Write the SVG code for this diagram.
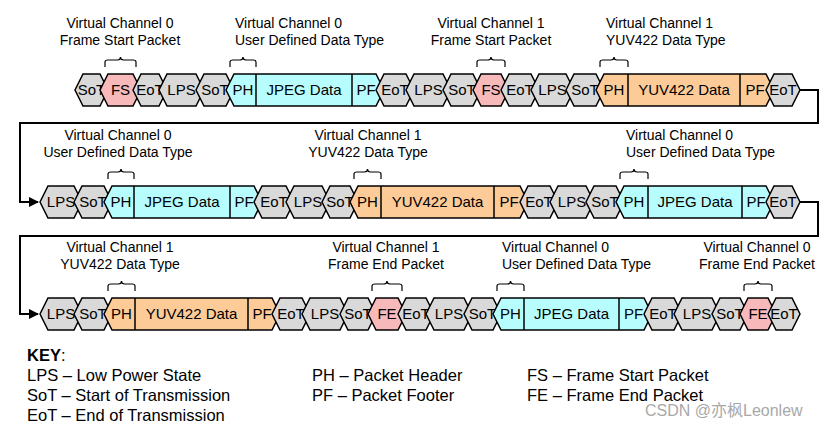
<svg xmlns="http://www.w3.org/2000/svg" width="840" height="428" viewBox="0 0 840 428">
<style>
text{font-family:"Liberation Sans",Arial,sans-serif;fill:#000}
.c{font-size:15px;text-anchor:middle}
.l{font-size:14px}
.m{text-anchor:middle}
.k{font-size:16.5px}
.g{fill:#d9d9d9;stroke:#000;stroke-width:1.5}
.p{fill:#f8b9bb;stroke:#000;stroke-width:1.5}
.b{fill:#b8fdfd;stroke:#000;stroke-width:1.5}
.o{fill:#fccb98;stroke:#000;stroke-width:1.5}
.d{stroke:#000;stroke-width:1.5}
.br{fill:none;stroke:#000;stroke-width:1.2}
.cn{fill:none;stroke:#000;stroke-width:2}
</style>
<defs><marker id="a" markerWidth="10" markerHeight="10" refX="9" refY="5" orient="auto" markerUnits="userSpaceOnUse"><path d="M0,0 L10,5 L0,10 z" fill="#000"/></marker></defs>
<g id="connectors">
<path class="cn" d="M800 90 H818 V123 H20 V202 H38" marker-end="url(#a)"/>
<path class="cn" d="M800 202 H818 V236 H20 V314 H38" marker-end="url(#a)"/>
</g>
<g id="labels">
<text class="l m" x="120" y="28">Virtual Channel 0</text><text class="l m" x="120" y="45">Frame Start Packet</text>
<text class="l" x="235" y="28">Virtual Channel 0</text><text class="l" x="235" y="45">User Defined Data Type</text>
<text class="l m" x="491" y="28">Virtual Channel 1</text><text class="l m" x="491" y="45">Frame Start Packet</text>
<text class="l" x="606" y="28">Virtual Channel 1</text><text class="l" x="606" y="45">YUV422 Data Type</text>
<text class="l m" x="118" y="140">Virtual Channel 0</text><text class="l m" x="118" y="157">User Defined Data Type</text>
<text class="l m" x="368" y="140">Virtual Channel 1</text><text class="l m" x="368" y="157">YUV422 Data Type</text>
<text class="l" x="626" y="140">Virtual Channel 0</text><text class="l" x="626" y="157">User Defined Data Type</text>
<text class="l m" x="120" y="252">Virtual Channel 1</text><text class="l m" x="120" y="269">YUV422 Data Type</text>
<text class="l m" x="386" y="252">Virtual Channel 1</text><text class="l m" x="386" y="269">Frame End Packet</text>
<text class="l" x="502" y="252">Virtual Channel 0</text><text class="l" x="502" y="269">User Defined Data Type</text>
<text class="l m" x="757" y="252">Virtual Channel 0</text><text class="l m" x="757" y="269">Frame End Packet</text>
</g>
<g id="braces">
<path class="br" d="M105 67 V62 Q105 60 108 60 H117.5 Q120.5 60 120.5 57 Q120.5 60 123.5 60 H133 Q136 60 136 62 V67"/>
<path class="br" d="M230 67 V62 Q230 60 233 60 H240 Q243 60 243 57 Q243 60 246 60 H253 Q256 60 256 62 V67"/>
<path class="br" d="M477 67 V62 Q477 60 480 60 H488 Q491 60 491 57 Q491 60 494 60 H502 Q505 60 505 62 V67"/>
<path class="br" d="M600 67 V62 Q600 60 603 60 H611 Q614 60 614 57 Q614 60 617 60 H625 Q628 60 628 62 V67"/>
<path class="br" d="M108 179 V174 Q108 172 111 172 H118 Q121 172 121 169 Q121 172 124 172 H131 Q134 172 134 174 V179"/>
<path class="br" d="M354 179 V174 Q354 172 357 172 H364.5 Q367.5 172 367.5 169 Q367.5 172 370.5 172 H378 Q381 172 381 174 V179"/>
<path class="br" d="M620 179 V174 Q620 172 623 172 H631 Q634 172 634 169 Q634 172 637 172 H645 Q648 172 648 174 V179"/>
<path class="br" d="M108 291 V286 Q108 284 111 284 H118.5 Q121.5 284 121.5 281 Q121.5 284 124.5 284 H132 Q135 284 135 286 V291"/>
<path class="br" d="M372 291 V286 Q372 284 375 284 H384 Q387 284 387 281 Q387 284 390 284 H399 Q402 284 402 286 V291"/>
<path class="br" d="M497 291 V286 Q497 284 500 284 H507.5 Q510.5 284 510.5 281 Q510.5 284 513.5 284 H521 Q524 284 524 286 V291"/>
<path class="br" d="M744 291 V286 Q744 284 747 284 H755 Q758 284 758 281 Q758 284 761 284 H769 Q772 284 772 286 V291"/>
</g>
<g id="row1">
<path class="g" d="M75 90 l8 -16 h17 l8 16 l-8 16 h-17 z"/><text class="c" x="91.5" y="95">SoT</text>
<path class="p" d="M100 90 l8 -16 h25 l8 16 l-8 16 h-25 z"/><text class="c" x="120.5" y="95">FS</text>
<path class="g" d="M133 90 l8 -16 h18 l8 16 l-8 16 h-18 z"/><text class="c" x="150" y="95">EoT</text>
<path class="g" d="M159 90 l8 -16 h29 l8 16 l-8 16 h-29 z"/><text class="c" x="181.5" y="95">LPS</text>
<path class="g" d="M196 90 l8 -16 h22 l8 16 l-8 16 h-22 z"/><text class="c" x="215" y="95">SoT</text>
<path class="b" d="M226 90 l8 -16 h142 l8 16 l-8 16 h-142 z"/><line class="d" x1="256" y1="74" x2="256" y2="106"/><line class="d" x1="352" y1="74" x2="352" y2="106"/>
<text class="c" x="243" y="95">PH</text><text class="c" x="304" y="95">JPEG Data</text><text class="c" x="366" y="95">PF</text>
<path class="g" d="M376 90 l8 -16 h22 l8 16 l-8 16 h-22 z"/><text class="c" x="395" y="95">EoT</text>
<path class="g" d="M406 90 l8 -16 h29 l8 16 l-8 16 h-29 z"/><text class="c" x="428.5" y="95">LPS</text>
<path class="g" d="M443 90 l8 -16 h22 l8 16 l-8 16 h-22 z"/><text class="c" x="462" y="95">SoT</text>
<path class="p" d="M473 90 l8 -16 h20 l8 16 l-8 16 h-20 z"/><text class="c" x="491" y="95">FS</text>
<path class="g" d="M501 90 l8 -16 h22 l8 16 l-8 16 h-22 z"/><text class="c" x="520" y="95">EoT</text>
<path class="g" d="M531 90 l8 -16 h27 l8 16 l-8 16 h-27 z"/><text class="c" x="552.5" y="95">LPS</text>
<path class="g" d="M566 90 l8 -16 h22 l8 16 l-8 16 h-22 z"/><text class="c" x="585" y="95">SoT</text>
<path class="o" d="M596 90 l8 -16 h162 l8 16 l-8 16 h-162 z"/><line class="d" x1="628" y1="74" x2="628" y2="106"/><line class="d" x1="740" y1="74" x2="740" y2="106"/>
<text class="c" x="614" y="95">PH</text><text class="c" x="684" y="95">YUV422 Data</text><text class="c" x="755" y="95">PF</text>
<path class="g" d="M766 90 l8 -16 h18 l8 16 l-8 16 h-18 z"/><text class="c" x="783" y="95">EoT</text>
</g>
<g id="row2">
<path class="g" d="M40 202 l8 -16 h26 l8 16 l-8 16 h-26 z"/><text class="c" x="61" y="207">LPS</text>
<path class="g" d="M74 202 l8 -16 h22 l8 16 l-8 16 h-22 z"/><text class="c" x="93" y="207">SoT</text>
<path class="b" d="M104 202 l8 -16 h142 l8 16 l-8 16 h-142 z"/><line class="d" x1="134" y1="186" x2="134" y2="218"/><line class="d" x1="230" y1="186" x2="230" y2="218"/>
<text class="c" x="121" y="207">PH</text><text class="c" x="182" y="207">JPEG Data</text><text class="c" x="244" y="207">PF</text>
<path class="g" d="M254 202 l8 -16 h24 l8 16 l-8 16 h-24 z"/><text class="c" x="274" y="207">EoT</text>
<path class="g" d="M286 202 l8 -16 h28 l8 16 l-8 16 h-28 z"/><text class="c" x="308" y="207">LPS</text>
<path class="g" d="M322 202 l8 -16 h20 l8 16 l-8 16 h-20 z"/><text class="c" x="340" y="207">SoT</text>
<path class="o" d="M350 202 l8 -16 h162 l8 16 l-8 16 h-162 z"/><line class="d" x1="381" y1="186" x2="381" y2="218"/><line class="d" x1="494" y1="186" x2="494" y2="218"/>
<text class="c" x="367.5" y="207">PH</text><text class="c" x="437.5" y="207">YUV422 Data</text><text class="c" x="509" y="207">PF</text>
<path class="g" d="M520 202 l8 -16 h22 l8 16 l-8 16 h-22 z"/><text class="c" x="539" y="207">EoT</text>
<path class="g" d="M550 202 l8 -16 h28 l8 16 l-8 16 h-28 z"/><text class="c" x="572" y="207">LPS</text>
<path class="g" d="M586 202 l8 -16 h22 l8 16 l-8 16 h-22 z"/><text class="c" x="605" y="207">SoT</text>
<path class="b" d="M616 202 l8 -16 h142 l8 16 l-8 16 h-142 z"/><line class="d" x1="648" y1="186" x2="648" y2="218"/><line class="d" x1="742" y1="186" x2="742" y2="218"/>
<text class="c" x="634" y="207">PH</text><text class="c" x="695" y="207">JPEG Data</text><text class="c" x="756" y="207">PF</text>
<path class="g" d="M766 202 l8 -16 h18 l8 16 l-8 16 h-18 z"/><text class="c" x="783" y="207">EoT</text>
</g>
<g id="row3">
<path class="g" d="M40 314 l8 -16 h26 l8 16 l-8 16 h-26 z"/><text class="c" x="61" y="319">LPS</text>
<path class="g" d="M74 314 l8 -16 h22 l8 16 l-8 16 h-22 z"/><text class="c" x="93" y="319">SoT</text>
<path class="o" d="M104 314 l8 -16 h160 l8 16 l-8 16 h-160 z"/><line class="d" x1="135" y1="298" x2="135" y2="330"/><line class="d" x1="248" y1="298" x2="248" y2="330"/>
<text class="c" x="121.5" y="319">PH</text><text class="c" x="191.5" y="319">YUV422 Data</text><text class="c" x="262" y="319">PF</text>
<path class="g" d="M272 314 l8 -16 h22 l8 16 l-8 16 h-22 z"/><text class="c" x="291" y="319">EoT</text>
<path class="g" d="M302 314 l8 -16 h30 l8 16 l-8 16 h-30 z"/><text class="c" x="325" y="319">LPS</text>
<path class="g" d="M340 314 l8 -16 h20 l8 16 l-8 16 h-20 z"/><text class="c" x="358" y="319">SoT</text>
<path class="p" d="M368 314 l8 -16 h22 l8 16 l-8 16 h-22 z"/><text class="c" x="387" y="319">FE</text>
<path class="g" d="M398 314 l8 -16 h20 l8 16 l-8 16 h-20 z"/><text class="c" x="416" y="319">EoT</text>
<path class="g" d="M426 314 l8 -16 h30 l8 16 l-8 16 h-30 z"/><text class="c" x="449" y="319">LPS</text>
<path class="g" d="M464 314 l8 -16 h21 l8 16 l-8 16 h-21 z"/><text class="c" x="482.5" y="319">SoT</text>
<path class="b" d="M493 314 l8 -16 h143 l8 16 l-8 16 h-143 z"/><line class="d" x1="524" y1="298" x2="524" y2="330"/><line class="d" x1="619" y1="298" x2="619" y2="330"/>
<text class="c" x="510.5" y="319">PH</text><text class="c" x="571.5" y="319">JPEG Data</text><text class="c" x="633.5" y="319">PF</text>
<path class="g" d="M644 314 l8 -16 h22 l8 16 l-8 16 h-22 z"/><text class="c" x="663" y="319">EoT</text>
<path class="g" d="M674 314 l8 -16 h30 l8 16 l-8 16 h-30 z"/><text class="c" x="697" y="319">LPS</text>
<path class="g" d="M712 314 l8 -16 h20 l8 16 l-8 16 h-20 z"/><text class="c" x="730" y="319">SoT</text>
<path class="p" d="M740 314 l8 -16 h20 l8 16 l-8 16 h-20 z"/><text class="c" x="758" y="319">FE</text>
<path class="g" d="M768 314 l8 -16 h16 l8 16 l-8 16 h-16 z"/><text class="c" x="784" y="319">EoT</text>
</g>
<g id="key">
<text class="k" x="27" y="361"><tspan font-weight="bold">KEY</tspan>:</text>
<text class="k" x="27" y="381">LPS – Low Power State</text>
<text class="k" x="27" y="401">SoT – Start of Transmission</text>
<text class="k" x="27" y="421">EoT – End of Transmission</text>
<text class="k" x="312" y="381">PH – Packet Header</text>
<text class="k" x="312" y="401">PF – Packet Footer</text>
<text class="k" x="527" y="381">FS – Frame Start Packet</text>
<text class="k" x="527" y="401">FE – Frame End Packet</text>
<text x="645" y="416" style="font-size:16px;fill:#a8a8a8;font-family:'Liberation Sans','Noto Sans CJK SC',sans-serif">CSDN @亦枫Leonlew</text>
</g>
</svg>
